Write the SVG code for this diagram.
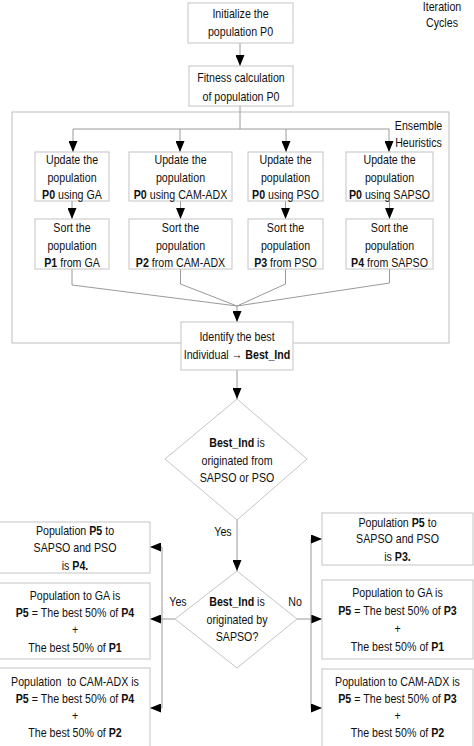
<svg xmlns="http://www.w3.org/2000/svg" width="474" height="746" viewBox="0 0 474 746">
<style>
.box{fill:#fff;stroke:#c4c4c4;stroke-width:1}
.frame{fill:none;stroke:#bdbdbd;stroke-width:1}
.ln{fill:none;stroke:#9a9a9a;stroke-width:1}
.arr{fill:none;stroke:#9a9a9a;stroke-width:1;marker-end:url(#ah)}
text{font-family:"Liberation Sans",Arial,sans-serif;font-size:13px;fill:#111;text-anchor:middle}
.b{font-weight:bold}
</style>
<defs>
<marker id="ah" markerUnits="userSpaceOnUse" markerWidth="11" markerHeight="9" refX="11" refY="4.5" orient="auto">
<path d="M0,0 L11,4.5 L0,9 Z" fill="#000"/>
</marker>
</defs>
<rect width="474" height="746" fill="#fff"/>

<g id="ensemble-frame">
<rect class="frame" x="12" y="112" width="437" height="231"/>
<g transform="translate(418.5,0) scale(0.82,1)">
<text x="0" y="130.5">Ensemble</text>
<text x="0" y="147.5">Heuristics</text>
</g>
</g>

<g id="iteration-label" transform="translate(442,0) scale(0.82,1)">
<text x="0" y="11">Iteration</text>
<text x="0" y="27">Cycles</text>
</g>

<g id="connectors">
<line class="arr" x1="240" y1="43" x2="240" y2="66"/>
<line class="ln" x1="240" y1="106" x2="240" y2="129"/>
<line class="ln" x1="73" y1="129" x2="389" y2="129"/>
<line class="arr" x1="73" y1="129" x2="73" y2="152"/>
<line class="arr" x1="180" y1="129" x2="180" y2="152"/>
<line class="arr" x1="286" y1="129" x2="286" y2="152"/>
<line class="arr" x1="389" y1="129" x2="389" y2="152"/>
<line class="arr" x1="72" y1="201" x2="72" y2="219"/>
<line class="arr" x1="180.5" y1="201" x2="180.5" y2="219"/>
<line class="arr" x1="285.5" y1="201" x2="285.5" y2="219"/>
<line class="arr" x1="389.5" y1="201" x2="389.5" y2="219"/>
<polyline class="ln" points="72,269 72,285 237,306"/>
<polyline class="ln" points="180.5,269 180.5,284 237,306"/>
<polyline class="ln" points="285.5,269 285.5,284 237,306"/>
<polyline class="ln" points="389.5,269 389.5,283 237,306"/>
<line class="arr" x1="237" y1="306" x2="237" y2="322"/>
<line class="arr" x1="237" y1="370" x2="237" y2="399"/>
<line class="arr" x1="237" y1="520" x2="237" y2="571"/>
<line class="arr" x1="175" y1="619" x2="150" y2="619"/>
<line class="ln" x1="162" y1="547" x2="162" y2="708"/>
<line class="arr" x1="162" y1="547" x2="150" y2="547"/>
<line class="arr" x1="162" y1="708" x2="150" y2="708"/>
<line class="arr" x1="297" y1="619" x2="322" y2="619"/>
<line class="ln" x1="311" y1="539" x2="311" y2="708"/>
<line class="arr" x1="311" y1="539" x2="322" y2="539"/>
<line class="arr" x1="311" y1="708" x2="322" y2="708"/>
</g>

<g id="init">
<rect class="box" x="188" y="3" width="105" height="40"/>
<g transform="translate(240.5,0) scale(0.82,1)">
<text x="0" y="18.5">Initialize the</text>
<text x="0" y="36.5">population P0</text>
</g>
</g>

<g id="fitness">
<rect class="box" x="189" y="66" width="104" height="40"/>
<g transform="translate(241,0) scale(0.82,1)">
<text x="0" y="82.5">Fitness calculation</text>
<text x="0" y="101">of population P0</text>
</g>
</g>

<g id="update-ga">
<rect class="box" x="35" y="152" width="74" height="49"/>
<g transform="translate(72,0) scale(0.82,1)">
<text x="0" y="164.5">Update the</text>
<text x="0" y="182.5">population</text>
<text x="0" y="199.5"><tspan class="b">P0</tspan> using GA</text>
</g>
</g>
<g id="update-camadx">
<rect class="box" x="129" y="152" width="103" height="49"/>
<g transform="translate(180.5,0) scale(0.82,1)">
<text x="0" y="164.5">Update the</text>
<text x="0" y="182.5">population</text>
<text x="0" y="199.5"><tspan class="b">P0</tspan> using CAM-ADX</text>
</g>
</g>
<g id="update-pso">
<rect class="box" x="248" y="152" width="75" height="49"/>
<g transform="translate(285.5,0) scale(0.82,1)">
<text x="0" y="164.5">Update the</text>
<text x="0" y="182.5">population</text>
<text x="0" y="199.5"><tspan class="b">P0</tspan> using PSO</text>
</g>
</g>
<g id="update-sapso">
<rect class="box" x="346" y="152" width="87" height="49"/>
<g transform="translate(389.5,0) scale(0.82,1)">
<text x="0" y="164.5">Update the</text>
<text x="0" y="182.5">population</text>
<text x="0" y="199.5"><tspan class="b">P0</tspan> using SAPSO</text>
</g>
</g>

<g id="sort-ga">
<rect class="box" x="35" y="219" width="74" height="50"/>
<g transform="translate(72,0) scale(0.82,1)">
<text x="0" y="232.5">Sort the</text>
<text x="0" y="250.5">population</text>
<text x="0" y="267.5"><tspan class="b">P1</tspan> from GA</text>
</g>
</g>
<g id="sort-camadx">
<rect class="box" x="129" y="219" width="103" height="50"/>
<g transform="translate(180.5,0) scale(0.82,1)">
<text x="0" y="232.5">Sort the</text>
<text x="0" y="250.5">population</text>
<text x="0" y="267.5"><tspan class="b">P2</tspan> from CAM-ADX</text>
</g>
</g>
<g id="sort-pso">
<rect class="box" x="248" y="219" width="75" height="50"/>
<g transform="translate(285.5,0) scale(0.82,1)">
<text x="0" y="232.5">Sort the</text>
<text x="0" y="250.5">population</text>
<text x="0" y="267.5"><tspan class="b">P3</tspan> from PSO</text>
</g>
</g>
<g id="sort-sapso">
<rect class="box" x="346" y="219" width="87" height="50"/>
<g transform="translate(389.5,0) scale(0.82,1)">
<text x="0" y="232.5">Sort the</text>
<text x="0" y="250.5">population</text>
<text x="0" y="267.5"><tspan class="b">P4</tspan> from SAPSO</text>
</g>
</g>

<g id="identify">
<rect class="box" x="181" y="322" width="112" height="48"/>
<g transform="translate(237,0) scale(0.82,1)">
<text x="0" y="341.5">Identify the best</text>
<text x="0" y="359.5">Individual → <tspan class="b">Best_Ind</tspan></text>
</g>
</g>

<g id="decision1">
<polygon class="box" points="237,399 307,459 237,520 165,459"/>
<g transform="translate(237,0) scale(0.82,1)">
<text x="0" y="447.5"><tspan class="b">Best_Ind</tspan> is</text>
<text x="0" y="465.5">originated from</text>
<text x="0" y="482.5">SAPSO or PSO</text>
</g>
</g>

<g id="decision2">
<polygon class="box" points="237,571 297,619 237,668 175,619"/>
<g transform="translate(237,0) scale(0.82,1)">
<text x="0" y="606.5"><tspan class="b">Best_Ind</tspan> is</text>
<text x="0" y="624.5">originated by</text>
<text x="0" y="641.5">SAPSO?</text>
</g>
</g>

<g id="labels">
<g transform="translate(223,0) scale(0.82,1)"><text x="0" y="536.5">Yes</text></g>
<g transform="translate(178,0) scale(0.82,1)"><text x="0" y="606.5">Yes</text></g>
<g transform="translate(295,0) scale(0.82,1)"><text x="0" y="606.5">No</text></g>
</g>

<g id="left1">
<rect class="box" x="-1" y="522" width="151" height="51"/>
<g transform="translate(75,0) scale(0.82,1)">
<text x="0" y="535.5">Population <tspan class="b">P5</tspan> to</text>
<text x="0" y="552.5">SAPSO and PSO</text>
<text x="0" y="570.5">is <tspan class="b">P4.</tspan></text>
</g>
</g>
<g id="left2">
<rect class="box" x="-1" y="583" width="151" height="76"/>
<g transform="translate(75,0) scale(0.82,1)">
<text x="0" y="600.5">Population to GA is</text>
<text x="0" y="617"><tspan class="b">P5</tspan> = The best 50% of <tspan class="b">P4</tspan></text>
<text x="0" y="634.5">+</text>
<text x="0" y="652.5">The best 50% of <tspan class="b">P1</tspan></text>
</g>
</g>
<g id="left3">
<rect class="box" x="-1" y="668" width="151" height="82"/>
<g transform="translate(75,0) scale(0.82,1)">
<text x="0" y="686.5" xml:space="preserve">Population  to CAM-ADX is</text>
<text x="0" y="703.5"><tspan class="b">P5</tspan> = The best 50% of <tspan class="b">P4</tspan></text>
<text x="0" y="720.5">+</text>
<text x="0" y="737.5">The best 50% of <tspan class="b">P2</tspan></text>
</g>
</g>

<g id="right1">
<rect class="box" x="322" y="513" width="151" height="52"/>
<g transform="translate(397.5,0) scale(0.82,1)">
<text x="0" y="527.5">Population <tspan class="b">P5</tspan> to</text>
<text x="0" y="543.5">SAPSO and PSO</text>
<text x="0" y="561.5">is <tspan class="b">P3.</tspan></text>
</g>
</g>
<g id="right2">
<rect class="box" x="322" y="580" width="151" height="79"/>
<g transform="translate(397.5,0) scale(0.82,1)">
<text x="0" y="597.5">Population to GA is</text>
<text x="0" y="615.5"><tspan class="b">P5</tspan> = The best 50% of <tspan class="b">P3</tspan></text>
<text x="0" y="633.5">+</text>
<text x="0" y="651.5">The best 50% of <tspan class="b">P1</tspan></text>
</g>
</g>
<g id="right3">
<rect class="box" x="322" y="669" width="151" height="82"/>
<g transform="translate(397.5,0) scale(0.82,1)">
<text x="0" y="686.5">Population to CAM-ADX is</text>
<text x="0" y="703.5"><tspan class="b">P5</tspan> = The best 50% of <tspan class="b">P3</tspan></text>
<text x="0" y="720.5">+</text>
<text x="0" y="737.5">The best 50% of <tspan class="b">P2</tspan></text>
</g>
</g>
</svg>
